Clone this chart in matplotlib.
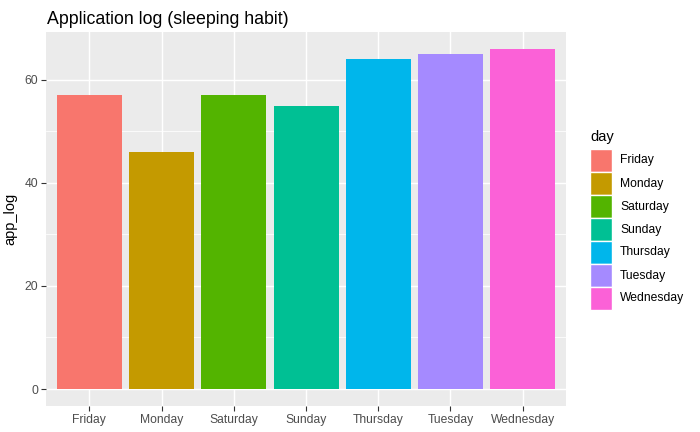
import matplotlib
matplotlib.use("Agg")
import matplotlib.pyplot as plt
from matplotlib.patches import Rectangle
import numpy as np

days = ["Friday", "Monday", "Saturday", "Sunday", "Thursday", "Tuesday", "Wednesday"]
app_log = [57, 46, 57, 55, 64, 65, 66]
colors = ["#F8766D", "#C49A00", "#53B400", "#00C094", "#00B6EB", "#A58AFF", "#FB61D7"]

plt.rcParams["font.family"] = ["Liberation Sans", "DejaVu Sans"]

W, H = 700, 432
fig = plt.figure(figsize=(W / 100, H / 100), dpi=100)
ax = fig.add_axes([46 / W, 1 - 406 / H, (566 - 46) / W, (406 - 32) / H])
ax.set_facecolor("#EBEBEB")

x = np.arange(1, len(days) + 1)
ax.bar(x, app_log, width=0.9, color=colors, zorder=3)

ax.set_xlim(0.4, len(days) + 0.6)
ymax = max(app_log)
ax.set_ylim(-0.05 * ymax, ymax * 1.05)

ax.set_xticks(x)
ax.set_xticklabels(days)
ax.set_yticks([0, 20, 40, 60])
ax.set_yticks([10, 30, 50], minor=True)
ax.grid(which="major", color="white", linewidth=1.07, zorder=0)
ax.grid(which="minor", axis="y", color="white", linewidth=0.55, zorder=0)
ax.set_axisbelow(True)
for s in ax.spines.values():
    s.set_visible(False)
ax.tick_params(axis="both", which="major", length=3.5, width=0.8, color="#333333",
               labelsize=8.7, labelcolor="#4D4D4D", pad=2)
ax.tick_params(axis="both", which="minor", length=0)

ax.set_ylabel("app_log", fontsize=10.5, labelpad=5)
ax.set_title("Application log (sleeping habit)", fontsize=12.8, loc="left", pad=6, x=0.002)

# legend drawn by hand, ggplot style (pixel layout)
key_x, key_w, key_h, top = 590, 22, 23, 149
fig.text(key_x / W, 1 - 137 / H, "day", fontsize=10.5, ha="left", va="center")
for i, (d, c) in enumerate(zip(days, colors)):
    y0 = top + key_h * i
    fig.add_artist(Rectangle((key_x / W, 1 - (y0 + key_h) / H), key_w / W, key_h / H,
                             facecolor=c, edgecolor="white", linewidth=1.0,
                             transform=fig.transFigure))
    fig.text(620 / W, 1 - (y0 + key_h / 2) / H, d, fontsize=8.7, ha="left", va="center")

fig.savefig("out.png", dpi=100)
